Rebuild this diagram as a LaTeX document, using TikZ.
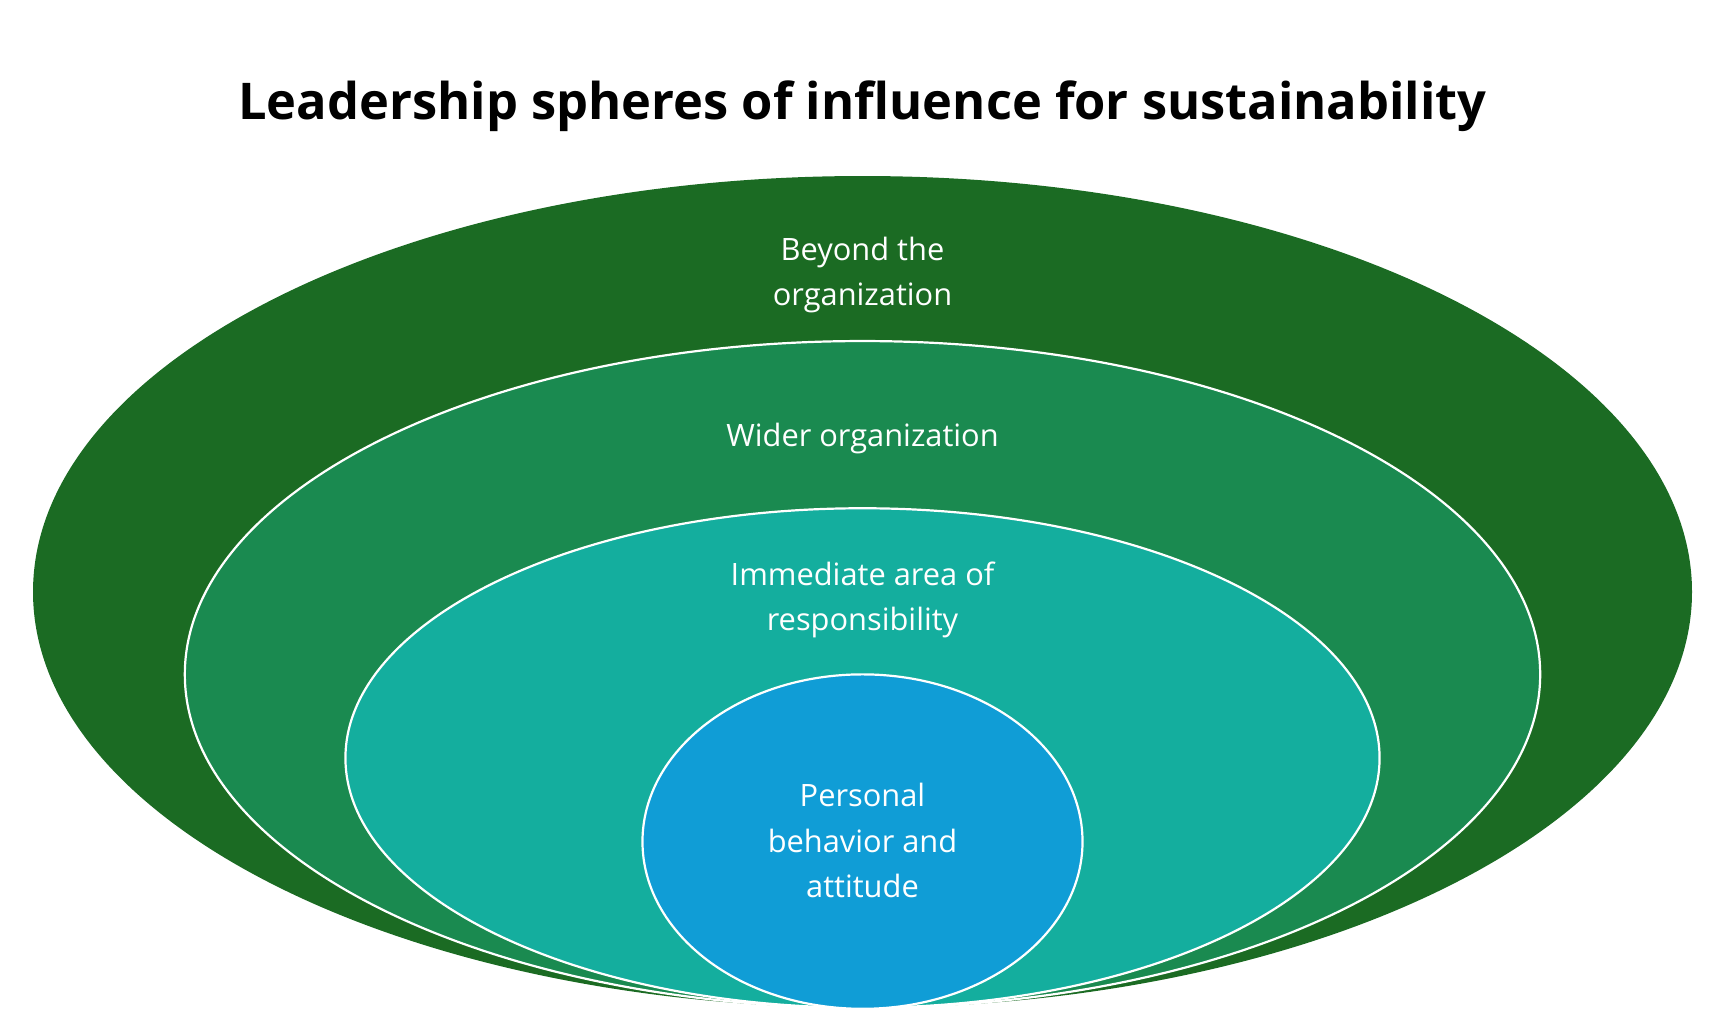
\documentclass[tikz,border=0pt]{standalone}
\usepackage{fontspec}
\setmainfont{Open Sans}
\begin{document}
\begin{tikzpicture}[x=1pt,y=-1pt,
  lab/.style={text=white,font=\fontsize{28}{41}\selectfont,align=center},
  ring/.style={draw=white,line width=2pt}]
\useasboundingbox (0,0) rectangle (1568,920);
\definecolor{c1}{HTML}{1B6B23}
\definecolor{c2}{HTML}{1A8A50}
\definecolor{c3}{HTML}{14AE9E}
\definecolor{c4}{HTML}{109DD6}
\fill[c1] (784,538) ellipse [x radius=754, y radius=378];
\filldraw[c2,ring] (784,613) ellipse [x radius=616, y radius=303];
\filldraw[c3,ring] (784,689) ellipse [x radius=470, y radius=227];
\filldraw[c4,ring] (784,765) ellipse [x radius=200, y radius=152];
\node[font=\bfseries\fontsize{46}{54}\selectfont] (t) at (784,97) {Leadership spheres of influence for sustainability};
\node[lab] (a) at (784,250) {Beyond the\\organization};
\node[lab] (b) at (784,399) {Wider organization};
\node[lab] (c) at (784,545) {Immediate area of\\responsibility};
\node[lab] (d) at (784,764) {Personal\\behavior and\\attitude};
\end{tikzpicture}
\end{document}
